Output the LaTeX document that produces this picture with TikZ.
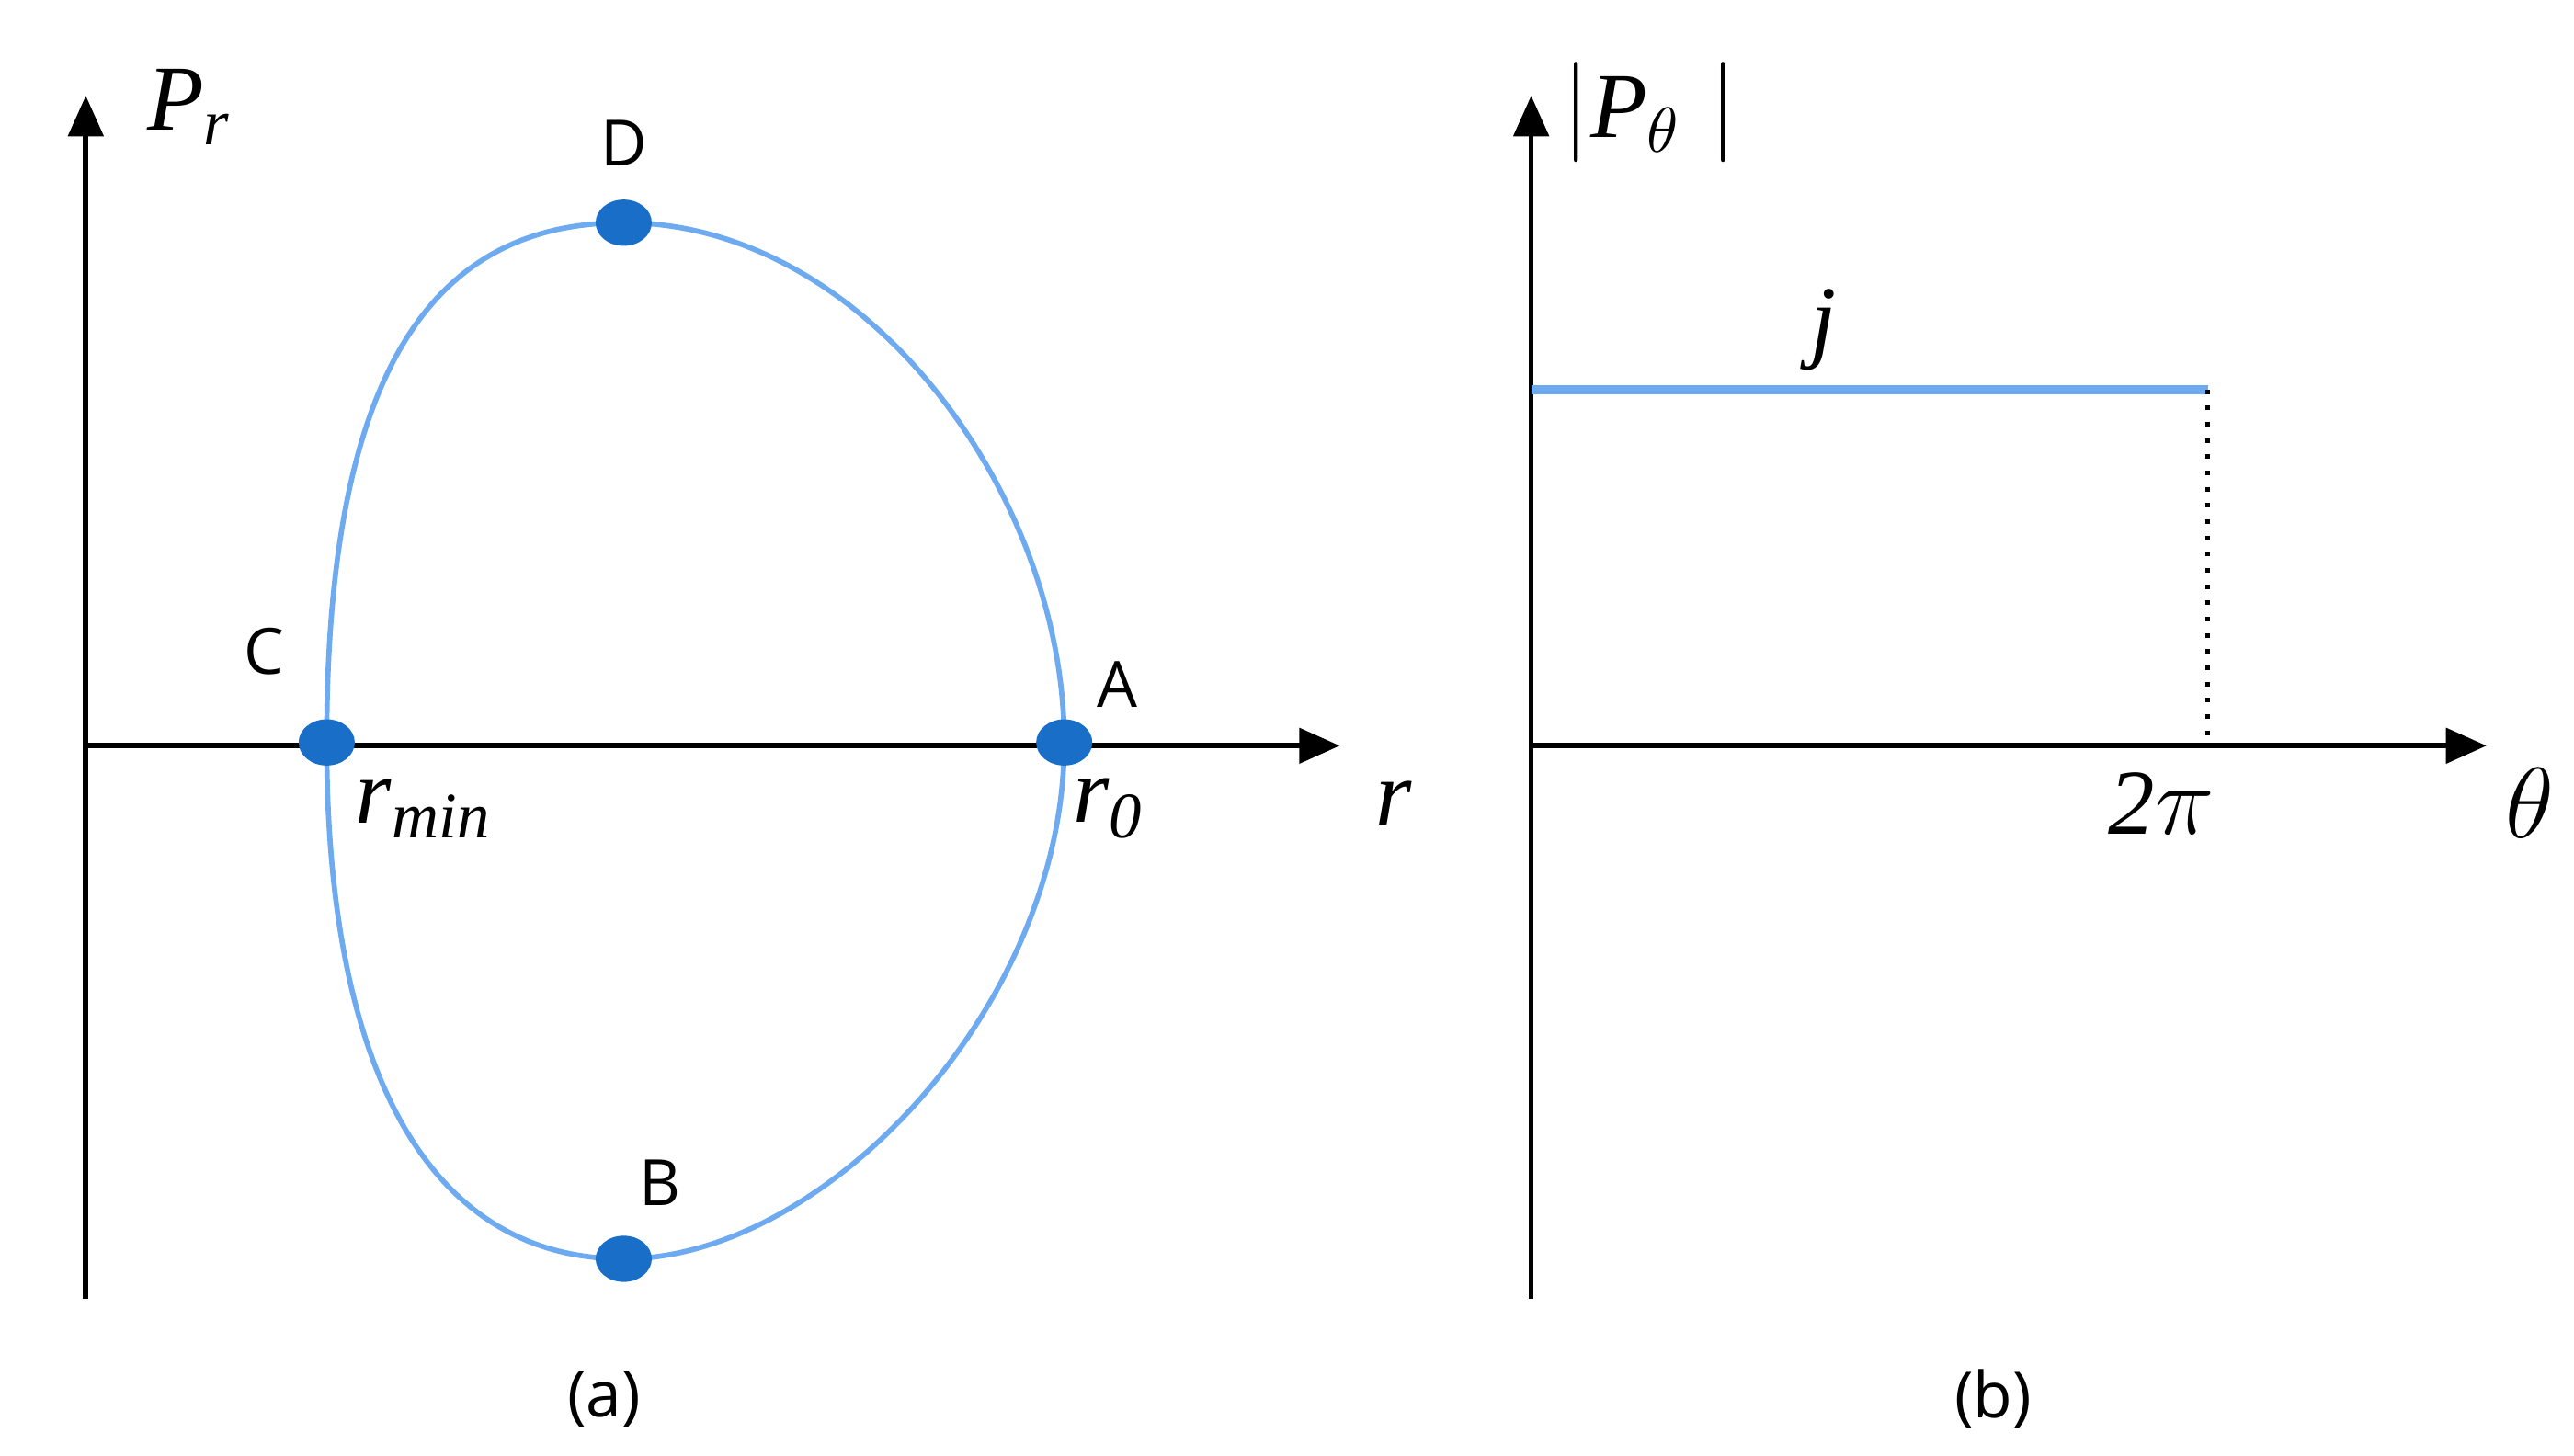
\documentclass[tikz,border=0pt]{standalone}
\usepackage{fontspec}
\setmainfont{Liberation Serif}
\setsansfont{Open Sans}
\usetikzlibrary{arrows.meta,shapes.geometric}
\definecolor{curveblue}{RGB}{110,170,240}
\definecolor{dotblue}{RGB}{25,110,200}
\newcommand{\isub}[2]{\textit{#1}\textsubscript{\textit{#2}}}
\tikzset{
  axis/.style={line width=0.9pt,-{Triangle[length=7pt,width=6pt]}},
  curve/.style={curveblue,line width=0.9pt},
  dot/.style={ellipse,fill=dotblue,minimum width=0.34cm,minimum height=0.28cm,inner sep=0},
  lab/.style={font=\sffamily\fontsize{11}{13}\selectfont},
  mlab/.style={font=\fontsize{16}{18}\selectfont},
}
\begin{document}
\begin{tikzpicture}[x=0.01cm,y=-0.01cm]
\useasboundingbox (0,0) rectangle (1560,882);
% left panel
\coordinate (o1) at (52,452);
\coordinate (yt1) at (52,58);
\coordinate (yb1) at (52,787);
\coordinate (xr1) at (812,452);
\draw[axis] (yb1) -- (yt1);
\draw[axis] (o1) -- (xr1);
\draw[curve] (198,450) .. controls (198,220) and (265,135) .. (378,135)
  .. controls (525,135) and (645,300) .. (645,450)
  .. controls (645,610) and (500,763) .. (378,763)
  .. controls (255,763) and (198,640) .. (198,450);
\node[dot] (C) at (198,450) {};
\node[dot] (A) at (645,450) {};
\node[dot] (D) at (378,135) {};
\node[dot] (B) at (378,763) {};
\node[lab] (lD) at (378,87) {D};
\node[lab] (lC) at (160,395) {C};
\node[lab] (lA) at (677,415) {A};
\node[lab] (lB) at (400,717) {B};
\node[mlab] (Pr) at (115,65) {\isub{P}{r}};
\node[mlab] (rmin) at (257,490) {\isub{r}{min}};
\node[mlab] (r0) at (672,490) {\isub{r}{0}};
\node[mlab] (r) at (845,487) {\textit{r}};
\node[lab] (a) at (366,848) {(a)};
% right panel
\coordinate (o2) at (928,452);
\coordinate (yt2) at (928,58);
\coordinate (yb2) at (928,787);
\coordinate (xr2) at (1507,452);
\draw[axis] (yb2) -- (yt2);
\draw[axis] (o2) -- (xr2);
\coordinate (j0) at (928,236);
\coordinate (j1) at (1338,236);
\coordinate (j2) at (1338,452);
\draw[curveblue,line width=1.6pt] (j0) -- (j1);
\draw[line width=0.8pt,dotted] (j1) -- (j2);
\node[mlab] (j) at (1105,200) {\textit{j}};
\node[mlab] (tp) at (1310,487) {\textit{2}$\pi$};
\node[mlab] (th) at (1533,487) {$\theta$};
\node[mlab] (Pt) at (1000,68) {$\left|\mbox{\isub{P}{$\theta$}}\;\right|$};
\node[lab] (b) at (1208,848) {(b)};
\end{tikzpicture}
\end{document}
